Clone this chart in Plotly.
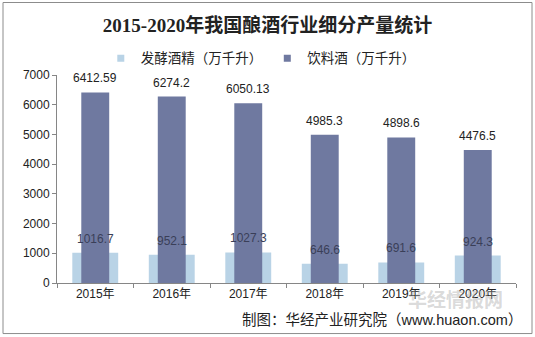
import plotly.graph_objects as go

years = ["2015年", "2016年", "2017年", "2018年", "2019年", "2020年"]
alcohol = [1016.7, 952.1, 1027.3, 646.6, 691.6, 924.3]
beverage = [6412.59, 6274.2, 6050.13, 4985.3, 4898.6, 4476.5]
alcohol_labels = ["1016.7", "952.1", "1027.3", "646.6", "691.6", "924.3"]
beverage_labels = ["6412.59", "6274.2", "6050.13", "4985.3", "4898.6", "4476.5"]
y_ticks = [0, 1000, 2000, 3000, 4000, 5000, 6000, 7000]
series_names = ["发酵酒精（万千升）", "饮料酒（万千升）"]

LIGHT = "#b9d3e6"
DARK = "#6f79a0"
FONT = "Liberation Sans, Arial, Noto Sans CJK SC, sans-serif"

fig = go.Figure()
fig.add_trace(go.Bar(x=years, y=alcohol, name=series_names[0], showlegend=False,
                     marker=dict(color=LIGHT, line=dict(width=0)), width=0.6))
fig.add_trace(go.Bar(x=years, y=beverage, name=series_names[1], showlegend=False,
                     marker=dict(color=DARK, line=dict(width=0)), width=0.365))
# legend entries with small square markers
for nm, col in zip(series_names, [LIGHT, DARK]):
    fig.add_trace(go.Scatter(x=[None], y=[None], mode="markers", name=nm,
                             marker=dict(symbol="square", size=7, color=col)))

for xv, yv, t in zip(years, alcohol, alcohol_labels):
    fig.add_annotation(x=xv, y=yv, text=t, showarrow=False, yanchor="bottom",
                       yshift=5, font=dict(size=12, color="#3a3f58", family=FONT))
for xv, yv, t in zip(years, beverage, beverage_labels):
    fig.add_annotation(x=xv, y=yv, text=t, showarrow=False, yanchor="bottom",
                       yshift=5, font=dict(size=12, color="#222222", family=FONT))

# faint watermark
fig.add_annotation(xref="paper", yref="paper", x=(455 - 57) / 459, y=(283.3 - 299) / 208.6,
                   xanchor="center", yanchor="middle", text="<b>华经情报网</b>",
                   showarrow=False, font=dict(size=19, color="rgba(160,160,160,0.4)",
                                               family="Noto Sans CJK SC"))

fig.add_annotation(xref="paper", yref="paper", x=(524 - 57) / 459, y=(283.3 - 320) / 208.6,
                   xanchor="right", yanchor="middle",
                   text="制图：华经产业研究院（www.huaon.com）", showarrow=False,
                   font=dict(size=14.5, color="#222222", family=FONT))

# outer frame
fig.add_shape(type="rect", xref="paper", yref="paper",
              x0=(3 - 57) / 459, x1=(532 - 57) / 459,
              y0=(283.3 - 334) / 208.6, y1=(283.3 - 2) / 208.6,
              line=dict(color="#8c8c8c", width=1), fillcolor="rgba(0,0,0,0)", layer="below")

fig.update_layout(
    width=535, height=337,
    margin=dict(l=57, r=19, t=75, b=54),
    paper_bgcolor="white", plot_bgcolor="white",
    barmode="overlay",
    title=dict(text="<b>2015-2020年我国酿酒行业细分产量统计</b>", x=0.5, xanchor="center",
               y=0.925, yanchor="middle",
               font=dict(size=19, color="#222222",
                         family="Liberation Serif, Noto Sans CJK SC, serif")),
    legend=dict(orientation="h", x=0.444, xanchor="center", y=1.08, yanchor="middle",
                font=dict(size=13.5, color="#222222", family=FONT),
                itemwidth=30, tracegroupgap=0, bgcolor="rgba(0,0,0,0)"),
    showlegend=True,
)
fig.update_xaxes(showline=True, linecolor="#868686", linewidth=1, ticks="outside",
                 tickson="boundaries", ticklen=4, tickcolor="#868686",
                 tickfont=dict(size=12, color="#222222", family=FONT),
                 showgrid=False)
fig.update_yaxes(range=[0, 7000], tickvals=y_ticks, showline=True, linecolor="#868686",
                 linewidth=1, ticks="outside", ticklen=4, tickcolor="#868686",
                 tickfont=dict(size=12, color="#222222", family=FONT),
                 showgrid=False, zeroline=False)

fig.write_html("out.html")
